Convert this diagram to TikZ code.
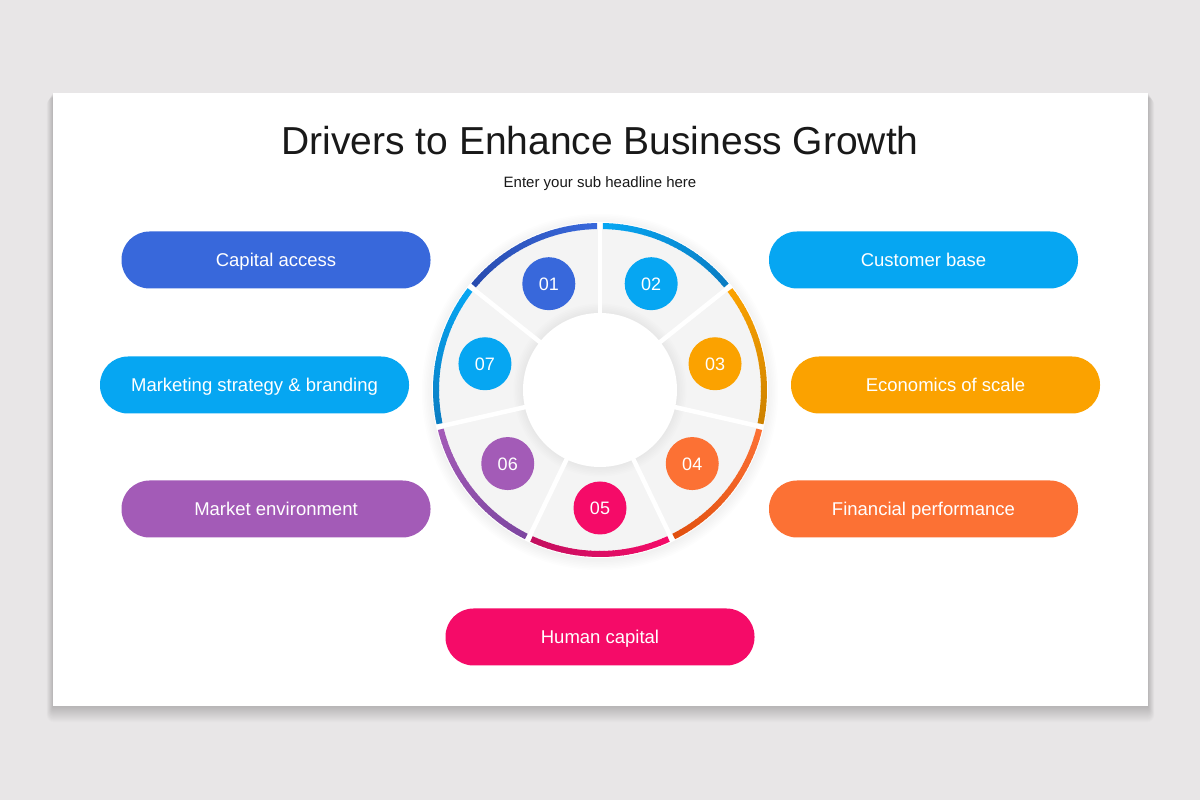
\documentclass[tikz,border=0pt]{standalone}
\usepackage{fontspec}
\setmainfont{Liberation Sans}
\definecolor{bg}{RGB}{232,230,231}
\definecolor{ink}{RGB}{25,25,25}
\definecolor{seg}{RGB}{244,244,244}
\definecolor{cA}{RGB}{56,104,219}
\definecolor{cB}{RGB}{6,166,242}
\definecolor{cC}{RGB}{251,162,0}
\definecolor{cD}{RGB}{252,113,52}
\definecolor{cE}{RGB}{245,11,104}
\definecolor{cF}{RGB}{163,91,183}
\definecolor{cAd}{RGB}{40,75,175}
\definecolor{cBd}{RGB}{10,125,195}
\definecolor{cCd}{RGB}{205,130,0}
\definecolor{cDd}{RGB}{225,80,15}
\definecolor{cEd}{RGB}{195,15,95}
\definecolor{cFd}{RGB}{125,70,160}
\newcommand\gradarc[4]{%
  \foreach \k in {0,...,29}{%
    \pgfmathsetmacro\sa{#1+(#2-#1)*\k/30}%
    \pgfmathsetmacro\ea{#1+(#2-#1)*min(\k+1.2,30)/30}%
    \pgfmathsetmacro\pc{100-\k*100/29}%
    \draw[line width=6pt, color=#3!\pc!#4] ({600+164*cos(\sa)},{410+164*sin(\sa)}) arc[start angle=\sa, end angle=\ea, radius=164];
  }}
\begin{document}
\begin{tikzpicture}[x=1pt,y=1pt,
  pill/.style={rounded corners=28pt, minimum width=309pt, minimum height=57pt, inner sep=0pt,
    text=white, font=\fontsize{18.5}{22}\selectfont, text height=17.2pt, text depth=4pt},
  num/.style={circle, minimum size=53pt, inner sep=0pt, text=white,
    font=\fontsize{18}{20}\selectfont, text height=12.9pt, text depth=0pt}]
\useasboundingbox (0,0) rectangle (1200,800);
\fill[bg] (0,0) rectangle (1200,800);
% soft slide shadow
\foreach \i in {1,...,16}
  \fill[black, opacity=0.011, rounded corners=\i*0.5pt] (53-\i*0.4,93.5-\i*1.0) rectangle (1148+\i*0.4,707.3-\i*0.3);
\fill[white] (53,93.5) rectangle (1148,707.3);

\node[anchor=base, font=\fontsize{39}{44}\selectfont, text=ink] (title) at (600,645) {Drivers to Enhance Business Growth};
\node[anchor=base, font=\fontsize{15}{18}\selectfont, text=ink] (sub) at (600,612) {Enter your sub headline here};

% wheel
\coordinate (c) at (600,410);
\foreach \i in {1,...,7}
  \fill[black, opacity=0.008] (600,408) circle (167+\i*1.6);
\fill[white] (c) circle (168);
\fill[seg] (c) circle (161);
\foreach \i in {1,...,6}
  \fill[black, opacity=0.008] (c) circle (77+\i*1.6);
\foreach \a in {90,38.5714,-12.8571,-64.2857,-115.7143,-167.1429,141.4286}
  \draw[white, line width=4.5pt] (c) -- ++(\a:162);
\fill[white] (c) circle (77);

\gradarc{140.43}{91}{cAd}{cA}
\gradarc{89}{39.57}{cB}{cBd}
\gradarc{37.57}{-11.86}{cC}{cCd}
\gradarc{-13.86}{-63.29}{cD}{cDd}
\gradarc{-65.29}{-114.71}{cE}{cEd}
\gradarc{-116.71}{-166.14}{cFd}{cF}
\gradarc{191.86}{142.43}{cBd}{cB}

\foreach \i/\a/\col in {01/115.714/cA, 02/64.286/cB, 03/12.857/cC, 04/-38.571/cD, 05/-90/cE, 06/-141.429/cF, 07/167.143/cB}
  \node[num, fill=\col] (n\i) at ([shift={(\a:118)}]c) {\i};

% pills
\node[pill, fill=cA] (p1) at (276,540) {Capital access};
\node[pill, fill=cB] (p7) at (254.5,415) {Marketing strategy \& branding};
\node[pill, fill=cF] (p6) at (276,291) {Market environment};
\node[pill, fill=cB] (p2) at (923.5,540) {Customer base};
\node[pill, fill=cC] (p3) at (945.5,415) {Economics of scale};
\node[pill, fill=cD] (p4) at (923.5,291) {Financial performance};
\node[pill, fill=cE] (p5) at (600,163) {Human capital};
\end{tikzpicture}
\end{document}
